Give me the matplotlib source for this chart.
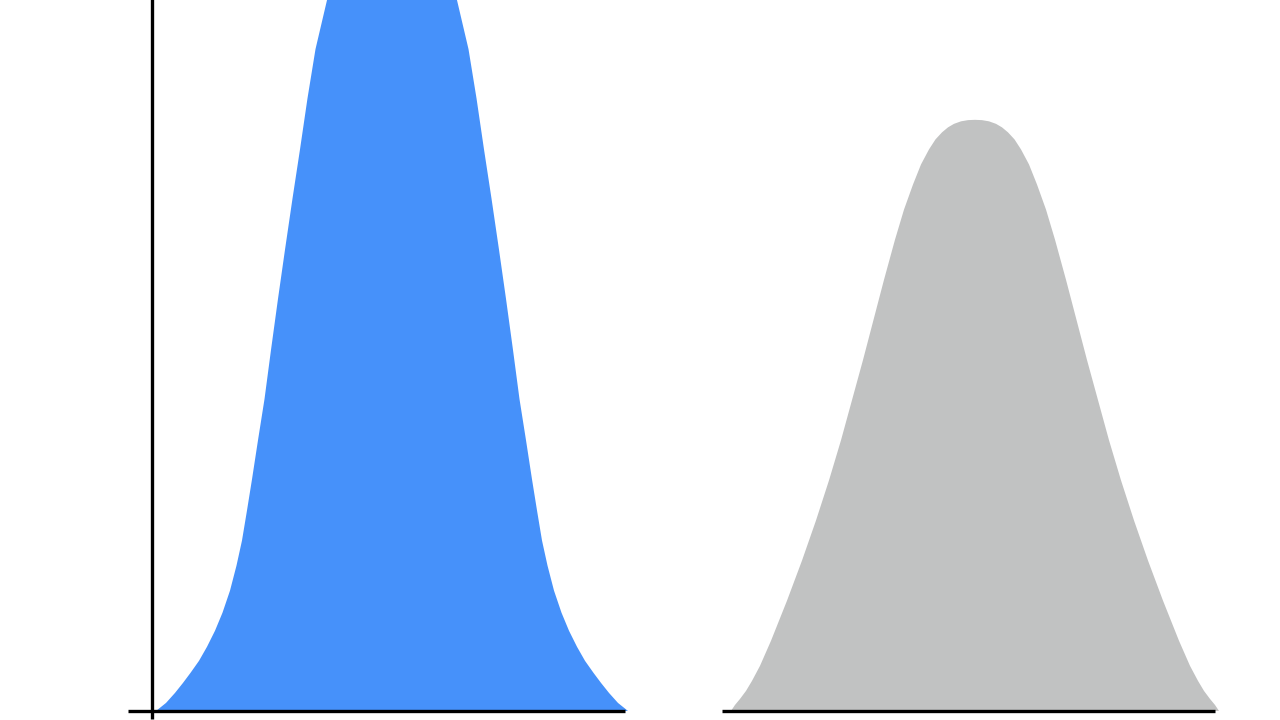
import numpy as np
import matplotlib
matplotlib.use('Agg')
import matplotlib.pyplot as plt

# 蓝色分布：中心位置，各高度处的半宽（读图所得），顶部超出画面
blue_center = 392
blue_h = [0, 4, 8, 18, 28, 38, 50, 64, 80, 98, 120, 145, 170, 200, 231, 270,
          311, 360, 411, 460, 511, 560, 611, 660, 711]
blue_hw = [236, 231, 226, 217, 209, 201.5, 193, 185, 177, 169.5, 162, 155.5, 150,
           145, 140, 134, 127.5, 121, 114, 107, 99.5, 92, 84.5, 76.5, 64.5]

# 灰色分布
gray_center = 975
gray_h = [0, 6, 12, 20, 30, 45, 70, 110, 150, 190, 230, 270, 310, 350, 390, 430,
          470, 500, 525, 545, 560, 570, 577, 582, 585.5, 588, 589.2, 589.5]
gray_hw = [244, 240, 235, 229, 223, 215, 204, 188, 173, 159, 146, 134, 123, 112,
           101.5, 91, 80, 71, 62, 54, 46, 39.5, 33, 27, 21, 14, 7, 0]

blue_col = '#4691FA'
gray_col = '#C1C2C2'


def outline(center, h, hw):
    # 左侧自下而上，右侧自上而下
    h = np.asarray(h, dtype=float)
    hw = np.asarray(hw, dtype=float)
    xs = np.concatenate([center - hw, (center + hw)[::-1]])
    ys = np.concatenate([h, h[::-1]])
    return xs, ys


fig = plt.figure(figsize=(12.8, 7.2), dpi=100)
ax = fig.add_axes([0, 0, 1, 1])

bx, by = outline(blue_center, blue_h, blue_hw)
gx, gy = outline(gray_center, gray_h, gray_hw)
ax.fill(bx, by, color=blue_col, linewidth=0)
ax.fill(gx, gy, color=gray_col, linewidth=0)

# 坐标轴线
ax.plot([152, 152], [-8, 720], color='black', lw=2.4, solid_capstyle='butt')
ax.hlines(0, 128, 625, color='black', lw=2.4)
ax.hlines(0, 722, 1215, color='black', lw=2.4)

ax.set_xlim(0, 1280)
ax.set_ylim(-9, 709)
ax.axis('off')

fig.savefig('out.png', dpi=100)
